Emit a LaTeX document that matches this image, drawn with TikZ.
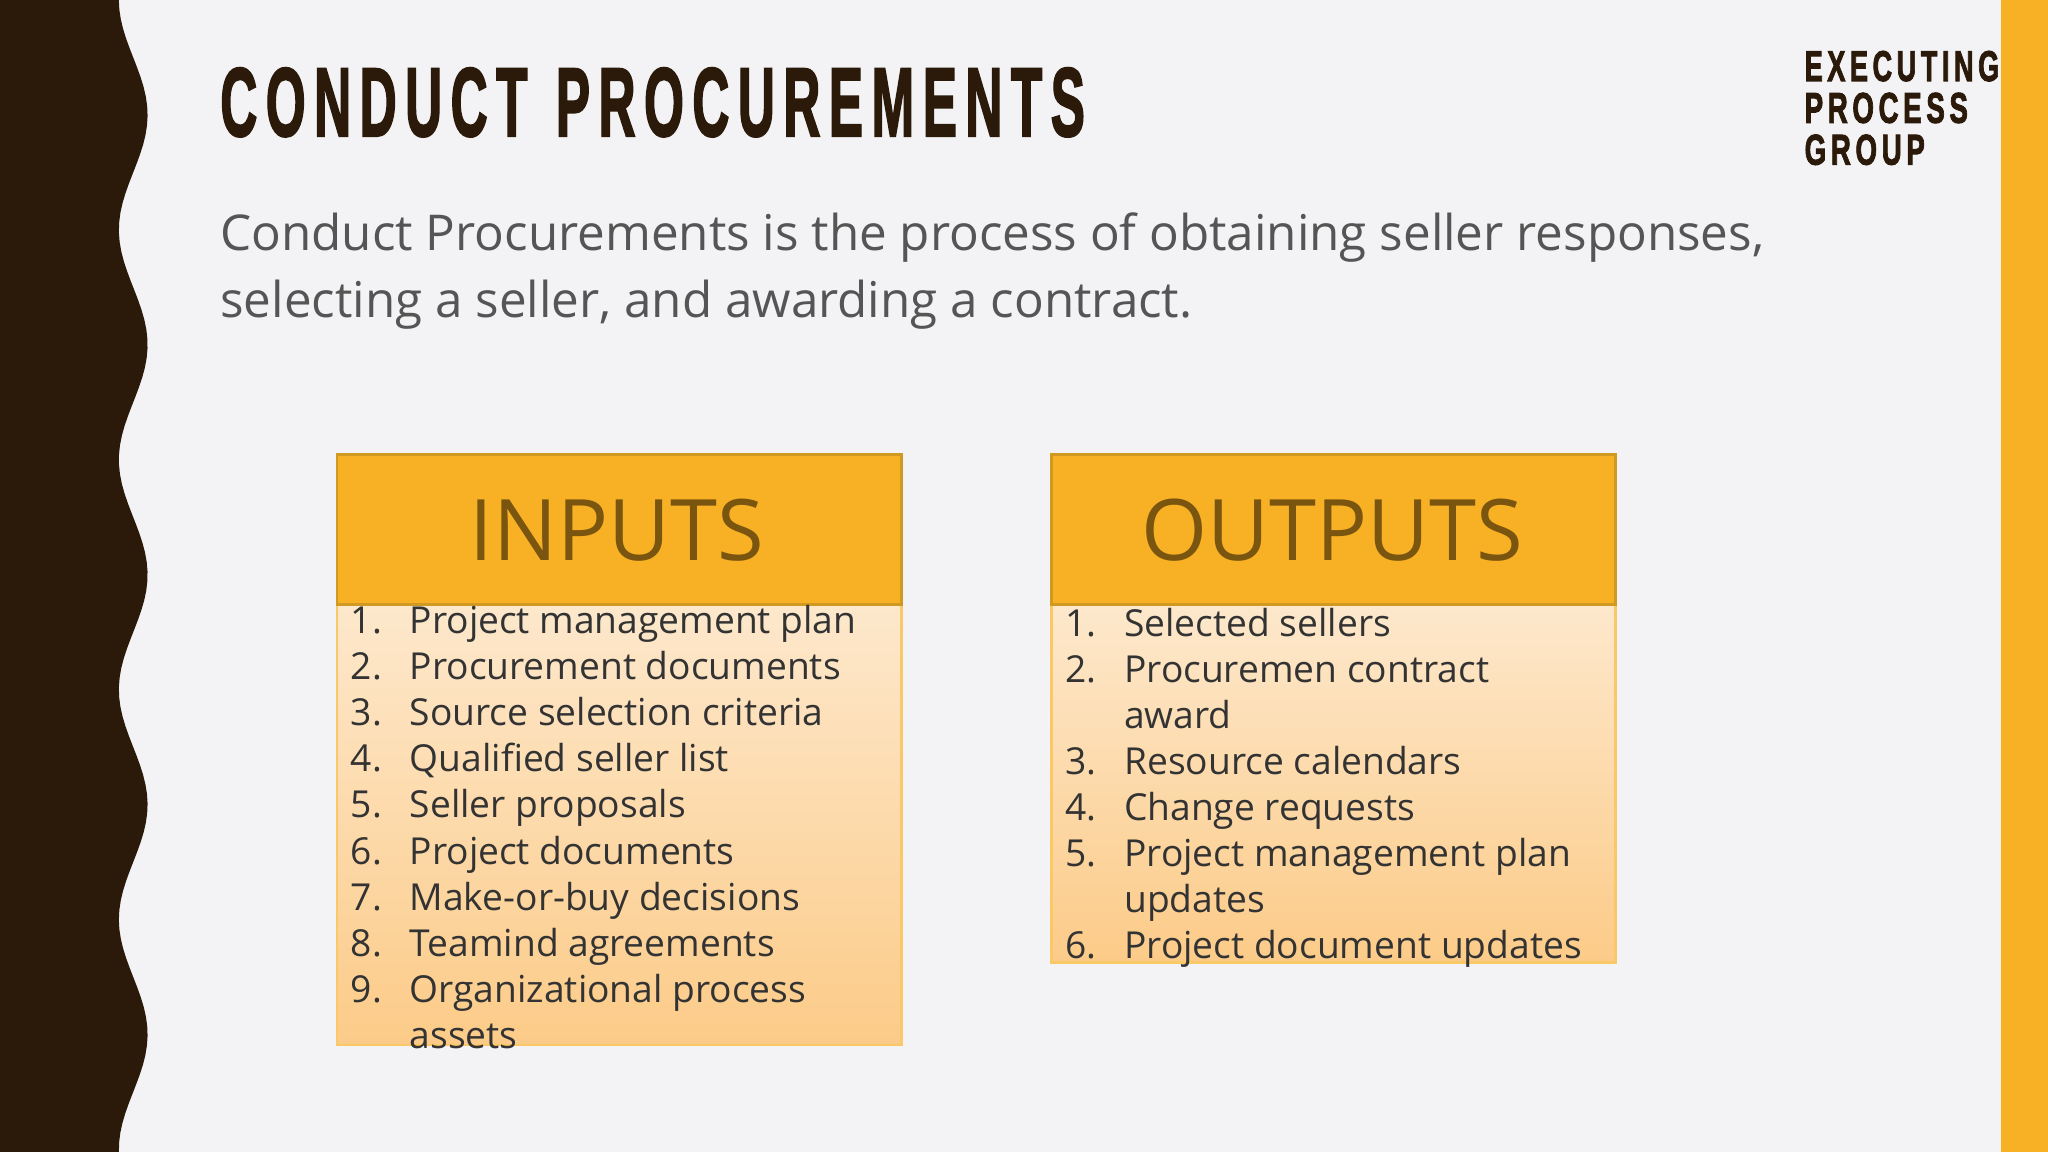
\documentclass[tikz,border=0pt]{standalone}
\usepackage{fontspec}
\setmainfont{Open Sans}
\newfontfamily\titlefont{Liberation Sans}
\newfontfamily\heavyfont{Liberation Sans Bold}[FakeBold=2.5]
\usetikzlibrary{positioning}
\definecolor{bgpaper}{HTML}{F3F3F5}
\definecolor{darkband}{HTML}{2B1A0A}
\definecolor{ambercol}{HTML}{F8B124}
\definecolor{amberedge}{HTML}{D09A22}
\definecolor{headtext}{HTML}{7A5510}
\definecolor{subgray}{HTML}{555555}
\definecolor{itemgray}{HTML}{333333}
\definecolor{bodytop}{HTML}{FDE8CC}
\definecolor{bodybot}{HTML}{FCCB88}
\tikzset{
  headbox/.style={fill=ambercol, draw=amberedge, line width=0.6pt},
  bodybox/.style={top color=bodytop, bottom color=bodybot, draw=ambercol!70, line width=0.6pt},
  headlabel/.style={font=\fontsize{18.5}{20}\selectfont, text=headtext},
  item/.style={anchor=base west, inner sep=0pt, font=\fontsize{8.1}{10}\selectfont, text=itemgray},
  grouptag/.style={anchor=base west, inner sep=0pt, text=darkband, font=\heavyfont},
}
\begin{document}
\begin{tikzpicture}[x=0.1mm,y=-0.1mm]
\useasboundingbox (0,0) rectangle (1568,882);
\fill[bgpaper] (0,0) rectangle (1568,882);
% side bands
\fill[darkband] (0,0) -- plot[domain=0:882,samples=120,variable=\t] ({102+11*cos(2.04545*(\t-88))},{\t}) -- (0,882) -- cycle;
\fill[ambercol] (1532,0) rectangle (1568,882);
% titles
\node[anchor=base west, inner sep=0pt, text=darkband] (title) at (168,104)
  {\resizebox{66.2mm}{5.2mm}{\heavyfont C\,O\,N\,D\,U\,C\,T\ \ P\,R\,O\,C\,U\,R\,E\,M\,E\,N\,T\,S}};
\node[grouptag] (grpa) at (1381,62) {\resizebox{14.9mm}{2.3mm}{E\,X\,E\,C\,U\,T\,I\,N\,G}};
\node[grouptag] (grpb) at (1381,94) {\resizebox{12.5mm}{2.3mm}{P\,R\,O\,C\,E\,S\,S}};
\node[grouptag] (grpc) at (1381,126) {\resizebox{9.2mm}{2.3mm}{G\,R\,O\,U\,P}};
\node[anchor=base west, inner sep=0pt, text=subgray, font=\fontsize{10.75}{13}\selectfont] (sub1) at (168,192)
  {Conduct Procurements is the process of obtaining seller responses,};
\node[anchor=base west, inner sep=0pt, text=subgray, font=\fontsize{10.75}{13}\selectfont] (sub2) at (168,243)
  {selecting a seller, and awarding a contract.};
% inputs
\fill[bodybox] (258,463) rectangle (690,800);
\draw[headbox] (258,348) rectangle (690,463);
\node[headlabel] (inputs) at (472,406) {INPUTS};
\foreach \n/\txt/\ln in {1/Project management plan/0, 2/Procurement documents/1,
  3/Source selection criteria/2, 4/Qualified seller list/3, 5/Seller proposals/4,
  6/Project documents/5, 7/Make-or-buy decisions/6, 8/Teamind agreements/7,
  9/Organizational process/8}
{
  \node[item] (in\n) at (268,{485+35.3*\ln}) {\n.};
  \node[item] at (313,{485+35.3*\ln}) {\txt};
}
\node[item] (inwrap) at (313,{485+35.3*9}) {assets};
% outputs
\fill[bodybox] (805,463) rectangle (1237,737);
\draw[headbox] (805,348) rectangle (1237,463);
\node[headlabel] (outputs) at (1020,406) {OUTPUTS};
\foreach \n/\txt/\ln in {1/Selected sellers/0, 2/Procuremen contract/1, 3/Resource calendars/3,
  4/Change requests/4, 5/Project management plan/5, 6/Project document updates/7}
{
  \node[item] (out\n) at (815,{487+35.3*\ln}) {\n.};
  \node[item] at (860,{487+35.3*\ln}) {\txt};
}
\node[item] (outwrapa) at (860,{487+35.3*2}) {award};
\node[item] (outwrapb) at (860,{487+35.3*6}) {updates};
\end{tikzpicture}
\end{document}
